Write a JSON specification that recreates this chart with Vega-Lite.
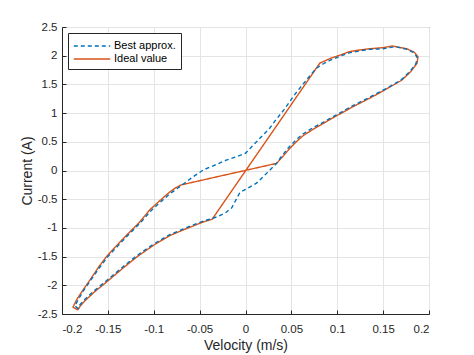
{
  "$schema": "https://vega.github.io/schema/vega-lite/v6.json",
  "width": 367,
  "height": 287,
  "autosize": "none",
  "padding": {"left": 62, "top": 27, "right": 45, "bottom": 41},
  "background": "white",
  "config": {
    "font": "Liberation Sans",
    "view": {"stroke": "#262626", "strokeWidth": 1},
    "axis": {
      "grid": true,
      "gridColor": "#e4e4e4",
      "domainColor": "#262626",
      "tickColor": "#262626",
      "tickSize": -4,
      "labelColor": "#262626",
      "labelFontSize": 11.5,
      "titleColor": "#262626",
      "titleFontSize": 14,
      "titleFontWeight": "normal"
    },
    "legend": {
      "orient": "top-left",
      "offset": 6,
      "padding": 5,
      "fillColor": "white",
      "strokeColor": "#262626",
      "symbolType": "M-2.6,0H2.6",
      "symbolSize": 196,
      "symbolOffset": 11,
      "symbolStrokeWidth": 1.5,
      "labelFontSize": 11,
      "labelColor": "#000000",
      "labelOffset": 14,
      "rowPadding": 0
    }
  },
  "data": {"values": [
    {"s": "Ideal value", "o": 1, "v": -0.183, "i": -2.43},
    {"s": "Ideal value", "o": 2, "v": -0.188, "i": -2.38},
    {"s": "Ideal value", "o": 3, "v": -0.184, "i": -2.25},
    {"s": "Ideal value", "o": 4, "v": -0.177, "i": -2.08},
    {"s": "Ideal value", "o": 5, "v": -0.170, "i": -1.92},
    {"s": "Ideal value", "o": 6, "v": -0.160, "i": -1.68},
    {"s": "Ideal value", "o": 7, "v": -0.151, "i": -1.49},
    {"s": "Ideal value", "o": 8, "v": -0.140, "i": -1.30},
    {"s": "Ideal value", "o": 9, "v": -0.128, "i": -1.10},
    {"s": "Ideal value", "o": 10, "v": -0.116, "i": -0.91},
    {"s": "Ideal value", "o": 11, "v": -0.104, "i": -0.68},
    {"s": "Ideal value", "o": 12, "v": -0.093, "i": -0.52},
    {"s": "Ideal value", "o": 13, "v": -0.083, "i": -0.38},
    {"s": "Ideal value", "o": 14, "v": -0.076, "i": -0.30},
    {"s": "Ideal value", "o": 15, "v": -0.070, "i": -0.25},
    {"s": "Ideal value", "o": 16, "v": 0.034, "i": 0.125},
    {"s": "Ideal value", "o": 17, "v": 0.041, "i": 0.25},
    {"s": "Ideal value", "o": 18, "v": 0.048, "i": 0.38},
    {"s": "Ideal value", "o": 19, "v": 0.056, "i": 0.51},
    {"s": "Ideal value", "o": 20, "v": 0.063, "i": 0.61},
    {"s": "Ideal value", "o": 21, "v": 0.074, "i": 0.72},
    {"s": "Ideal value", "o": 22, "v": 0.087, "i": 0.84},
    {"s": "Ideal value", "o": 23, "v": 0.099, "i": 0.95},
    {"s": "Ideal value", "o": 24, "v": 0.117, "i": 1.11},
    {"s": "Ideal value", "o": 25, "v": 0.139, "i": 1.29},
    {"s": "Ideal value", "o": 26, "v": 0.157, "i": 1.45},
    {"s": "Ideal value", "o": 27, "v": 0.170, "i": 1.57},
    {"s": "Ideal value", "o": 28, "v": 0.180, "i": 1.72},
    {"s": "Ideal value", "o": 29, "v": 0.187, "i": 1.87},
    {"s": "Ideal value", "o": 30, "v": 0.188, "i": 1.98},
    {"s": "Ideal value", "o": 31, "v": 0.184, "i": 2.06},
    {"s": "Ideal value", "o": 32, "v": 0.176, "i": 2.12},
    {"s": "Ideal value", "o": 33, "v": 0.166, "i": 2.15},
    {"s": "Ideal value", "o": 34, "v": 0.160, "i": 2.17},
    {"s": "Ideal value", "o": 35, "v": 0.150, "i": 2.14},
    {"s": "Ideal value", "o": 36, "v": 0.135, "i": 2.12},
    {"s": "Ideal value", "o": 37, "v": 0.124, "i": 2.10},
    {"s": "Ideal value", "o": 38, "v": 0.113, "i": 2.07},
    {"s": "Ideal value", "o": 39, "v": 0.103, "i": 2.01},
    {"s": "Ideal value", "o": 40, "v": 0.092, "i": 1.95},
    {"s": "Ideal value", "o": 41, "v": 0.081, "i": 1.87},
    {"s": "Ideal value", "o": 42, "v": -0.0364, "i": -0.85},
    {"s": "Ideal value", "o": 43, "v": -0.045, "i": -0.89},
    {"s": "Ideal value", "o": 44, "v": -0.064, "i": -1.01},
    {"s": "Ideal value", "o": 45, "v": -0.082, "i": -1.13},
    {"s": "Ideal value", "o": 46, "v": -0.100, "i": -1.30},
    {"s": "Ideal value", "o": 47, "v": -0.118, "i": -1.50},
    {"s": "Ideal value", "o": 48, "v": -0.135, "i": -1.72},
    {"s": "Ideal value", "o": 49, "v": -0.152, "i": -1.95},
    {"s": "Ideal value", "o": 50, "v": -0.165, "i": -2.12},
    {"s": "Ideal value", "o": 51, "v": -0.175, "i": -2.27},
    {"s": "Ideal value", "o": 52, "v": -0.180, "i": -2.36},
    {"s": "Ideal value", "o": 53, "v": -0.183, "i": -2.43},

    {"s": "Best approx.", "o": 1, "v": -0.182, "i": -2.41},
    {"s": "Best approx.", "o": 2, "v": -0.186, "i": -2.36},
    {"s": "Best approx.", "o": 3, "v": -0.182, "i": -2.24},
    {"s": "Best approx.", "o": 4, "v": -0.176, "i": -2.08},
    {"s": "Best approx.", "o": 5, "v": -0.169, "i": -1.92},
    {"s": "Best approx.", "o": 6, "v": -0.159, "i": -1.69},
    {"s": "Best approx.", "o": 7, "v": -0.150, "i": -1.50},
    {"s": "Best approx.", "o": 8, "v": -0.139, "i": -1.31},
    {"s": "Best approx.", "o": 9, "v": -0.127, "i": -1.11},
    {"s": "Best approx.", "o": 10, "v": -0.115, "i": -0.92},
    {"s": "Best approx.", "o": 11, "v": -0.103, "i": -0.70},
    {"s": "Best approx.", "o": 12, "v": -0.092, "i": -0.54},
    {"s": "Best approx.", "o": 13, "v": -0.082, "i": -0.40},
    {"s": "Best approx.", "o": 14, "v": -0.074, "i": -0.31},
    {"s": "Best approx.", "o": 15, "v": -0.068, "i": -0.24},
    {"s": "Best approx.", "o": 16, "v": -0.058, "i": -0.12},
    {"s": "Best approx.", "o": 17, "v": -0.046, "i": 0.01},
    {"s": "Best approx.", "o": 18, "v": -0.034, "i": 0.09},
    {"s": "Best approx.", "o": 19, "v": -0.021, "i": 0.18},
    {"s": "Best approx.", "o": 20, "v": -0.010, "i": 0.24},
    {"s": "Best approx.", "o": 21, "v": 0.000, "i": 0.30},
    {"s": "Best approx.", "o": 22, "v": 0.0065, "i": 0.41},
    {"s": "Best approx.", "o": 23, "v": 0.012, "i": 0.50},
    {"s": "Best approx.", "o": 24, "v": 0.0265, "i": 0.74},
    {"s": "Best approx.", "o": 25, "v": 0.032, "i": 0.86},
    {"s": "Best approx.", "o": 26, "v": 0.042, "i": 1.06},
    {"s": "Best approx.", "o": 27, "v": 0.054, "i": 1.33},
    {"s": "Best approx.", "o": 28, "v": 0.066, "i": 1.57},
    {"s": "Best approx.", "o": 29, "v": 0.077, "i": 1.78},
    {"s": "Best approx.", "o": 30, "v": 0.085, "i": 1.86},
    {"s": "Best approx.", "o": 31, "v": 0.092, "i": 1.92},
    {"s": "Best approx.", "o": 32, "v": 0.103, "i": 1.99},
    {"s": "Best approx.", "o": 33, "v": 0.113, "i": 2.05},
    {"s": "Best approx.", "o": 34, "v": 0.124, "i": 2.08},
    {"s": "Best approx.", "o": 35, "v": 0.135, "i": 2.11},
    {"s": "Best approx.", "o": 36, "v": 0.150, "i": 2.12},
    {"s": "Best approx.", "o": 37, "v": 0.160, "i": 2.15},
    {"s": "Best approx.", "o": 38, "v": 0.166, "i": 2.15},
    {"s": "Best approx.", "o": 39, "v": 0.176, "i": 2.11},
    {"s": "Best approx.", "o": 40, "v": 0.184, "i": 2.05},
    {"s": "Best approx.", "o": 41, "v": 0.187, "i": 1.97},
    {"s": "Best approx.", "o": 42, "v": 0.186, "i": 1.87},
    {"s": "Best approx.", "o": 43, "v": 0.179, "i": 1.72},
    {"s": "Best approx.", "o": 44, "v": 0.169, "i": 1.57},
    {"s": "Best approx.", "o": 45, "v": 0.156, "i": 1.45},
    {"s": "Best approx.", "o": 46, "v": 0.138, "i": 1.30},
    {"s": "Best approx.", "o": 47, "v": 0.116, "i": 1.12},
    {"s": "Best approx.", "o": 48, "v": 0.098, "i": 0.96},
    {"s": "Best approx.", "o": 49, "v": 0.086, "i": 0.85},
    {"s": "Best approx.", "o": 50, "v": 0.073, "i": 0.74},
    {"s": "Best approx.", "o": 51, "v": 0.062, "i": 0.63},
    {"s": "Best approx.", "o": 52, "v": 0.055, "i": 0.53},
    {"s": "Best approx.", "o": 53, "v": 0.047, "i": 0.40},
    {"s": "Best approx.", "o": 54, "v": 0.040, "i": 0.26},
    {"s": "Best approx.", "o": 55, "v": 0.033, "i": 0.11},
    {"s": "Best approx.", "o": 56, "v": 0.023, "i": -0.05},
    {"s": "Best approx.", "o": 57, "v": 0.012, "i": -0.22},
    {"s": "Best approx.", "o": 58, "v": 0.000, "i": -0.33},
    {"s": "Best approx.", "o": 59, "v": -0.006, "i": -0.38},
    {"s": "Best approx.", "o": 60, "v": -0.010, "i": -0.50},
    {"s": "Best approx.", "o": 61, "v": -0.015, "i": -0.65},
    {"s": "Best approx.", "o": 62, "v": -0.022, "i": -0.74},
    {"s": "Best approx.", "o": 63, "v": -0.030, "i": -0.80},
    {"s": "Best approx.", "o": 64, "v": -0.037, "i": -0.84},
    {"s": "Best approx.", "o": 65, "v": -0.046, "i": -0.88},
    {"s": "Best approx.", "o": 66, "v": -0.065, "i": -1.00},
    {"s": "Best approx.", "o": 67, "v": -0.083, "i": -1.12},
    {"s": "Best approx.", "o": 68, "v": -0.101, "i": -1.29},
    {"s": "Best approx.", "o": 69, "v": -0.119, "i": -1.49},
    {"s": "Best approx.", "o": 70, "v": -0.136, "i": -1.71},
    {"s": "Best approx.", "o": 71, "v": -0.153, "i": -1.94},
    {"s": "Best approx.", "o": 72, "v": -0.166, "i": -2.11},
    {"s": "Best approx.", "o": 73, "v": -0.176, "i": -2.26},
    {"s": "Best approx.", "o": 74, "v": -0.181, "i": -2.35},
    {"s": "Best approx.", "o": 75, "v": -0.182, "i": -2.41}
  ]},
  "mark": {"type": "line", "strokeWidth": 1.4},
  "encoding": {
    "x": {
      "field": "v", "type": "quantitative",
      "scale": {"domain": [-0.2, 0.2], "nice": false, "zero": false},
      "axis": {
        "title": "Velocity (m/s)",
        "values": [-0.2, -0.15, -0.1, -0.05, 0, 0.05, 0.1, 0.15, 0.2],
        "labelExpr": "'' + datum.value",
        "labelPadding": 13,
        "titlePadding": 4
      }
    },
    "y": {
      "field": "i", "type": "quantitative",
      "scale": {"domain": [-2.5, 2.5], "nice": false, "zero": false},
      "axis": {
        "title": "Current (A)",
        "values": [-2.5, -2, -1.5, -1, -0.5, 0, 0.5, 1, 1.5, 2, 2.5],
        "labelExpr": "'' + datum.value",
        "labelPadding": 9,
        "titlePadding": 3
      }
    },
    "order": {"field": "o", "type": "quantitative"},
    "color": {
      "field": "s", "type": "nominal",
      "scale": {"domain": ["Best approx.", "Ideal value"], "range": ["#0072BD", "#D95319"]},
      "legend": {"title": null}
    },
    "strokeDash": {
      "field": "s", "type": "nominal",
      "scale": {"domain": ["Best approx.", "Ideal value"], "range": [[4, 3], [1, 0]]},
      "legend": {"title": null}
    }
  }
}
